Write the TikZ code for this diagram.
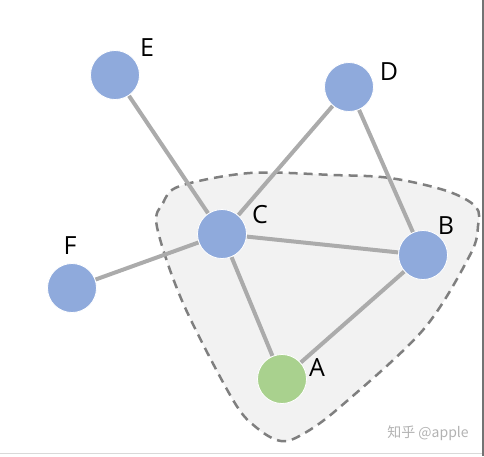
\documentclass[tikz,border=0pt]{standalone}
\usepackage{fontspec}
\usetikzlibrary{backgrounds}
\setmainfont{Open Sans}
\newfontfamily\cjk{Noto Sans CJK SC}
\definecolor{nodeblue}{HTML}{8FAADC}
\definecolor{nodegreen}{HTML}{A9D18E}
\definecolor{edgegray}{HTML}{ABABAB}
\definecolor{hullfill}{HTML}{F2F2F2}
\definecolor{hullline}{HTML}{7F7F7F}
\tikzset{
  vertex/.style={circle, draw=white, line width=0.8pt, minimum size=49pt, inner sep=0pt, fill=nodeblue},
  seed/.style={vertex, fill=nodegreen},
  tag/.style={font=\fontsize{25}{25}\selectfont, inner sep=0pt},
  link/.style={edgegray, line width=4pt},
  hull/.style={hullline, fill=hullfill, line width=2.5pt, dash pattern=on 9pt off 6pt}
}

\begin{document}
\begin{tikzpicture}[x=1pt, y=-1pt]
    \useasboundingbox (0, 0) rectangle (484, 456);
    \node [vertex] (E) at (115, 75) {};
    \node [vertex] (D) at (349, 87) {};
    \node [vertex] (C) at (222, 234) {};
    \node [vertex] (B) at (423, 255) {};
    \node [vertex] (F) at (72, 288) {};
    \node [seed] (A) at (282, 379) {};
    \node [tag] (lE) at (147, 48) {E};
    \node [tag] (lD) at (389, 72) {D};
    \node [tag] (lC) at (260, 215) {C};
    \node [tag] (lB) at (446, 226) {B};
    \node [tag] (lF) at (70, 246) {F};
    \node [tag] (lA) at (317, 368) {A};
    \begin{scope}[on background layer]
    \draw [hull] plot [smooth cycle, tension=0.55] coordinates {(157, 227) (163, 203) (180, 186) (250, 173) (333, 175) (390, 178) (447, 191) (476, 207) (478, 226) (470, 255) (423, 330) (340, 407) (303, 434) (281, 441) (257, 428) (233, 400) (183, 303)};
    \draw [link] (E) to (C);
    \draw [link] (D) to (C);
    \draw [link] (D) to (B);
    \draw [link] (F) to (C);
    \draw [link] (C) to (B);
    \draw [link] (C) to (A);
    \draw [link] (B) to (A);
    \end{scope}
    \node [text=black!30, font=\cjk\fontsize{14}{14}\selectfont] (mark) at (428, 433) {知乎 @apple};
    \draw [black!55, line width=2pt] (483, 0) to (483, 456);
    \draw [black!15, line width=1pt] (0, 453.5) to (482, 453.5);
\end{tikzpicture}
\end{document}
